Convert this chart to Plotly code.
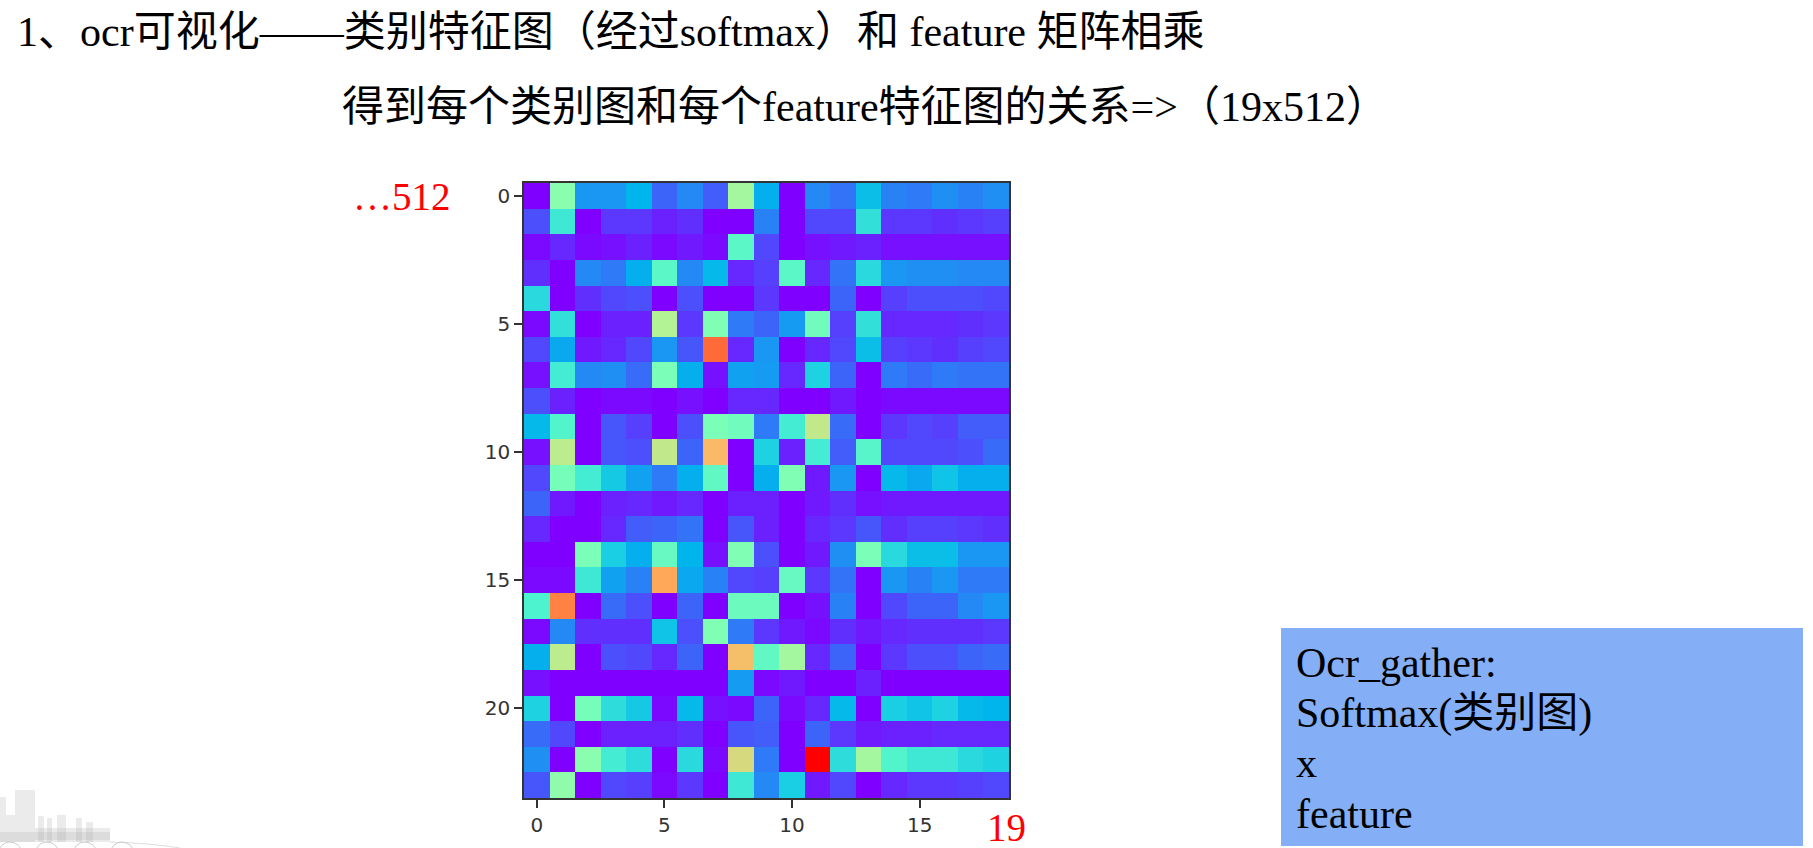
import plotly.graph_objects as go

W = 1813
H = 848

row_00 = [.00, .52, .20, .20, .25, .13, .18, .12, .57, .24, .00, .18, .15, .27, .17, .16, .19, .17, .19]
row_01 = [.10, .37, .00, .07, .07, .04, .06, .00, .00, .17, .00, .09, .09, .35, .07, .07, .06, .07, .08]
row_02 = [.01, .05, .01, .02, .04, .01, .03, .01, .43, .09, .00, .02, .03, .04, .02, .02, .02, .02, .02]
row_03 = [.06, .00, .18, .16, .24, .43, .18, .26, .05, .08, .43, .05, .15, .33, .20, .19, .19, .18, .18]
row_04 = [.33, .00, .06, .09, .10, .00, .10, .00, .00, .07, .00, .00, .13, .00, .08, .10, .10, .10, .09]
row_05 = [.01, .35, .00, .04, .04, .60, .07, .50, .16, .13, .21, .47, .08, .35, .05, .05, .05, .06, .07]
row_06 = [.09, .23, .03, .05, .09, .20, .11, .86, .05, .20, .00, .05, .09, .27, .08, .07, .06, .08, .09]
row_07 = [.02, .38, .18, .19, .14, .49, .24, .02, .22, .21, .05, .31, .13, .00, .16, .14, .16, .15, .15]
row_08 = [.10, .04, .00, .01, .01, .00, .02, .00, .05, .05, .00, .00, .03, .00, .01, .01, .01, .01, .01]
row_09 = [.26, .41, .00, .11, .08, .00, .10, .49, .47, .16, .38, .63, .14, .00, .07, .09, .08, .12, .12]
row_10 = [.02, .62, .00, .11, .10, .63, .13, .74, .00, .31, .04, .38, .12, .42, .09, .09, .09, .10, .14]
row_11 = [.09, .48, .38, .29, .22, .16, .24, .44, .00, .24, .50, .03, .20, .00, .26, .23, .28, .24, .24]
row_12 = [.13, .03, .00, .04, .05, .03, .05, .00, .04, .04, .00, .03, .06, .02, .03, .03, .03, .03, .03]
row_13 = [.05, .00, .00, .05, .12, .13, .15, .00, .11, .04, .00, .05, .07, .11, .06, .08, .08, .07, .06]
row_14 = [.00, .00, .49, .30, .24, .45, .25, .02, .50, .10, .00, .03, .19, .49, .33, .27, .27, .20, .20]
row_15 = [.01, .01, .37, .22, .17, .77, .23, .17, .09, .08, .45, .07, .15, .00, .20, .17, .20, .16, .16]
row_16 = [.40, .83, .00, .14, .10, .00, .13, .00, .46, .46, .00, .02, .17, .00, .09, .13, .13, .18, .20]
row_17 = [.01, .18, .06, .06, .06, .28, .10, .50, .16, .07, .03, .01, .06, .03, .05, .06, .06, .06, .07]
row_18 = [.24, .62, .00, .10, .09, .05, .13, .00, .73, .44, .57, .05, .13, .00, .07, .10, .10, .13, .14]
row_19 = [.02, .00, .00, .00, .00, .00, .00, .00, .21, .01, .03, .00, .00, .04, .00, .00, .00, .00, .00]
row_20 = [.31, .00, .48, .34, .29, .01, .26, .02, .01, .13, .01, .05, .26, .00, .30, .28, .31, .26, .25]
row_21 = [.14, .09, .00, .04, .04, .04, .06, .00, .11, .12, .00, .13, .07, .03, .04, .04, .05, .05, .05]
row_22 = [.19, .00, .52, .38, .34, .00, .33, .01, .67, .16, .00, 1.0, .34, .57, .41, .37, .37, .33, .31]
row_23 = [.11, .53, .00, .09, .08, .01, .07, .00, .37, .18, .30, .03, .09, .00, .05, .07, .07, .08, .09]

z = [row_00, row_01, row_02, row_03, row_04, row_05, row_06, row_07,
     row_08, row_09, row_10, row_11, row_12, row_13, row_14, row_15,
     row_16, row_17, row_18, row_19, row_20, row_21, row_22, row_23]

# matplotlib "rainbow"
rainbow = [
    [0.0, "rgb(128,0,255)"], [0.1, "rgb(76,79,252)"], [0.2, "rgb(26,150,243)"],
    [0.25, "rgb(0,180,236)"], [0.3, "rgb(26,206,227)"], [0.4, "rgb(77,243,206)"],
    [0.5, "rgb(128,255,180)"], [0.6, "rgb(179,243,150)"], [0.7, "rgb(230,206,116)"],
    [0.75, "rgb(255,180,98)"], [0.8, "rgb(255,150,79)"], [0.9, "rgb(255,79,40)"],
    [1.0, "rgb(255,0,0)"],
]

x_ticks = [0, 5, 10, 15]
y_ticks = [0, 5, 10, 15, 20]

SERIF = "Liberation Serif, Noto Sans CJK SC, serif"
TICK_FONT = dict(family="DejaVu Sans", size=20, color="#333333")


def px(x):
    return x / W


def py(y):
    return 1 - y / H


def label(text, x, y, size=42, color="black"):
    # y is the middle of the text line in page pixels
    return dict(text=text, x=px(x), y=py(y), xref="paper", yref="paper", xanchor="left",
                yanchor="middle", showarrow=False, align="left",
                font=dict(family=SERIF, size=size, color=color))


annotations = [
    label("1、ocr可视化——类别特征图（经过softmax）和 feature 矩阵相乘", 15, 32),
    label("得到每个类别图和每个feature特征图的关系=>（19x512）", 340, 107),
    label("…512", 351, 197, size=39, color="red"),
    label("19", 985, 827, size=39, color="red"),
    label("Ocr_gather:", 1294, 663),
    label("Softmax(类别图)", 1294, 713),
    label("x", 1294, 763),
    label("feature", 1294, 814),
]

shapes = [
    # blue note box
    dict(type="rect", xref="paper", yref="paper", x0=px(1281), x1=px(1803), y0=py(628), y1=py(846),
         fillcolor="#84AFF6", line_width=0, layer="below"),
]

# faded skyline in the page corner
skyline = [(0, 6, 797, 842), (15, 35, 790, 842), (6, 15, 815, 842), (0, 110, 832, 842),
           (35, 110, 828, 840), (38, 44, 816, 842), (47, 52, 818, 842), (57, 66, 815, 842),
           (76, 82, 818, 842), (86, 93, 822, 842)]
for x0, x1, y0, y1 in skyline:
    shapes.append(dict(type="rect", xref="paper", yref="paper", x0=px(x0), x1=px(x1), y0=py(y0), y1=py(y1),
                       fillcolor="rgba(170,170,170,0.24)", line_width=0, layer="below"))
shapes.append(dict(type="path", xref="paper", yref="paper",
                   path=f"M {px(110)} {py(842)} Q {px(150)} {py(843)} {px(180)} {py(848)}",
                   line=dict(color="#dddddd", width=1), layer="below"))
for cx in [10, 47, 85, 122]:
    shapes.append(dict(type="circle", xref="paper", yref="paper", x0=px(cx - 12), x1=px(cx + 12),
                       y0=py(842), y1=py(866), line=dict(color="#cccccc", width=1), layer="below"))

fig = go.Figure(
    go.Heatmap(z=z, colorscale=rainbow, zmin=0, zmax=1, showscale=False, xgap=0, ygap=0)
)
fig.update_layout(
    width=W,
    height=H,
    margin=dict(l=0, r=0, t=0, b=0),
    paper_bgcolor="white",
    plot_bgcolor="white",
    annotations=annotations,
    shapes=shapes,
    xaxis=dict(domain=[px(524), px(1009)], range=[-0.5, 18.5], tickvals=x_ticks, ticks="outside",
               ticklen=8, tickwidth=1.5, tickcolor="#333333", tickfont=TICK_FONT, showgrid=False,
               zeroline=False, showline=True, linecolor="#333333", linewidth=1.5, mirror=True),
    yaxis=dict(domain=[py(798), py(183)], range=[23.5, -0.5], tickvals=y_ticks, ticks="outside",
               ticklen=8, tickwidth=1.5, tickcolor="#333333", tickfont=TICK_FONT, showgrid=False,
               zeroline=False, showline=True, linecolor="#333333", linewidth=1.5, mirror=True),
)

fig.write_html("out.html", config={"displayModeBar": False},
               post_script="document.body.style.margin='0';document.body.style.overflow='hidden';")
